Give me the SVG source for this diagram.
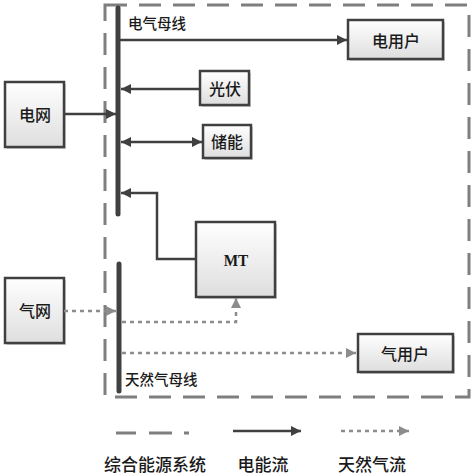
<svg xmlns="http://www.w3.org/2000/svg" width="474" height="475" viewBox="0 0 474 475">
<defs>
<linearGradient id="g" x1="0" y1="0" x2="0" y2="1">
<stop offset="0" stop-color="#ffffff"/>
<stop offset="1" stop-color="#dedede"/>
</linearGradient>
<marker id="aD" viewBox="0 0 10 10" refX="10" refY="5" markerWidth="11" markerHeight="10" markerUnits="userSpaceOnUse" orient="auto-start-reverse">
<path d="M0,0 L10,5 L0,10 z" fill="#404040"/>
</marker>
<marker id="aG" viewBox="0 0 10 10" refX="10" refY="5" markerWidth="11" markerHeight="10" markerUnits="userSpaceOnUse" orient="auto">
<path d="M0,0 L10,5 L0,10 z" fill="#8c8c8c"/>
</marker>
</defs>
<style>
.box{fill:url(#g);stroke:#404040;stroke-width:2.5}
.sh{fill:#cfcfcf}
.t{font-family:"Noto Sans CJK SC","Noto Sans",sans-serif;font-size:16px;font-weight:500;fill:#1a1a1a;text-anchor:middle;dominant-baseline:central}
.lbl{font-family:"Noto Sans CJK SC","Noto Sans",sans-serif;font-size:14.5px;font-weight:500;fill:#1a1a1a}
.leg{font-family:"Noto Sans CJK SC","Noto Sans",sans-serif;font-size:17px;font-weight:500;fill:#1a1a1a;text-anchor:middle;dominant-baseline:central}
.e{fill:none;stroke:#404040;stroke-width:2.5}
.gs{fill:none;stroke:#8c8c8c;stroke-width:2.5;stroke-dasharray:4 4}
.bus{stroke:#404040;stroke-width:5;stroke-linecap:round}
</style>
<rect x="105" y="5" width="364" height="392" fill="none" stroke="#7f7f7f" stroke-width="3" stroke-dasharray="22 12"/>
<g id="bus-elec"><line class="bus" x1="118" y1="8" x2="118" y2="214"/><text class="lbl" x="128" y="29">电气母线</text></g>
<g id="bus-gas"><line class="bus" x1="119" y1="264" x2="119" y2="391"/><text class="lbl" x="125" y="385">天然气母线</text></g>
<g id="grid"><rect class="sh" x="7" y="84" width="59" height="65"/><rect class="box" x="5" y="82" width="59" height="65"/><text class="t" x="35" y="114">电网</text></g>
<g id="gasgrid"><rect class="sh" x="7" y="280" width="59" height="65"/><rect class="box" x="5" y="278" width="59" height="65"/><text class="t" x="35" y="310">气网</text></g>
<g id="euser"><rect class="sh" x="350" y="22" width="95" height="39"/><rect class="box" x="348" y="20" width="95" height="39"/><text class="t" x="396" y="40">电用户</text></g>
<g id="pv"><rect class="sh" x="202" y="73" width="49" height="34"/><rect class="box" x="200" y="71" width="49" height="34"/><text class="t" x="225" y="88">光伏</text></g>
<g id="ess"><rect class="sh" x="205" y="127" width="48" height="33"/><rect class="box" x="203" y="125" width="48" height="33"/><text class="t" x="227" y="141">储能</text></g>
<g id="mt"><rect class="sh" x="198" y="224" width="79" height="75"/><rect class="box" x="196" y="222" width="79" height="75"/><text x="236" y="260" font-family="Liberation Serif,serif" font-size="17" font-weight="bold" fill="#1a1a1a" text-anchor="middle" dominant-baseline="central" transform="translate(236 0) scale(0.9 1) translate(-236 0)">MT</text></g>
<g id="guser"><rect class="sh" x="360" y="336" width="95" height="38"/><rect class="box" x="358" y="334" width="95" height="38"/><text class="t" x="405" y="353">气用户</text></g>
<g id="connectors">
<path class="e" d="M64,114 H116" marker-end="url(#aD)"/>
<path class="e" d="M120,40 H347" marker-end="url(#aD)"/>
<path class="e" d="M200,89 H121" marker-end="url(#aD)"/>
<path class="e" d="M121,142 H202" marker-start="url(#aD)" marker-end="url(#aD)"/>
<path class="e" d="M196,259 H157 V193 H121" marker-end="url(#aD)"/>
<path class="gs" d="M64,311 H116" marker-end="url(#aG)"/>
<path class="gs" d="M122,322 H236 V298" marker-end="url(#aG)"/>
<path class="gs" d="M122,353 H356" marker-end="url(#aG)"/>
</g>
<g id="legend">
<path d="M116,433 H191" fill="none" stroke="#7f7f7f" stroke-width="3" stroke-dasharray="20 13 23 12 5 100"/>
<text class="leg" x="155" y="463">综合能源系统</text>
<path class="e" d="M233,431 H301" marker-end="url(#aD)"/>
<text class="leg" x="263" y="463">电能流</text>
<path class="gs" d="M341,431 H409" marker-end="url(#aG)"/>
<text class="leg" x="372" y="463">天然气流</text>
</g>
</svg>
